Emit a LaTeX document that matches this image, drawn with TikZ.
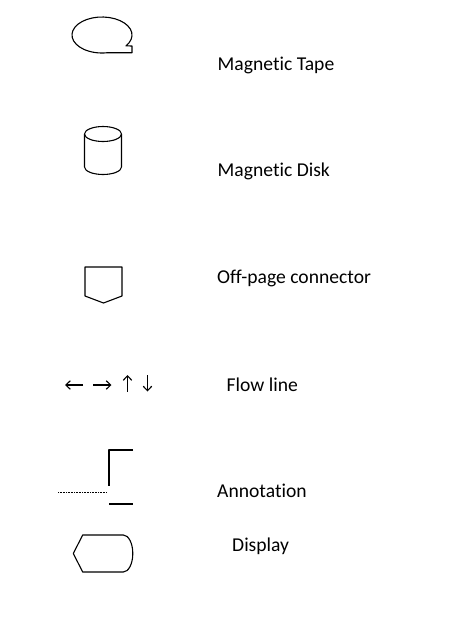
\documentclass[tikz,border=0pt]{standalone}
\usepackage{fontspec}
\setmainfont[RawFeature={-liga;-dlig;-clig}]{Carlito}
\usepackage{tikz}
\usetikzlibrary{arrows.meta,positioning}

\begin{document}
\begin{tikzpicture}[
    x=1pt, y=-1pt,
    shp/.style={draw, line width=1.1pt, line join=round},
    flow/.style={draw, line width=1.1pt, -{Straight Barb[length=4.5pt, width=8.5pt, line width=1.1pt]}},
    lbl/.style={anchor=base west, inner sep=0, font=\fontsize{19.6}{21}\selectfont}]
\useasboundingbox (0,0) rectangle (461,625);

% magnetic tape
\path[shp] (102,35) ++(37:30 and 18) arc[start angle=37, end angle=-280, x radius=30, y radius=18]
    -- (132,52.7) -- (132,46) -- cycle;
% magnetic disk
\path[shp] (103,134) ellipse [x radius=18.5, y radius=7.5];
\path[shp] (84.5,134) -- (84.5,167) arc[start angle=180, end angle=0, x radius=18.5, y radius=7.5] -- (121.5,134);
% off-page connector
\path[shp] (85,267) -- (122,267) -- (122,296) -- (103.5,303) -- (85,296) -- cycle;
% flow lines
\path[flow] (83,385) -- (65,385);
\path[flow] (93,385) -- (111.5,385);
\path[flow] (127.5,391.5) -- (127.5,375);
\path[flow] (147.5,375) -- (147.5,391.5);
% annotation
\path[shp] (133,450) -- (109,450) -- (109,486);
\path[draw, line width=0.7pt, dash pattern=on 0.7pt off 0.9pt] (58,492.3) -- (107,492.3);
\path[shp] (109,504) -- (133,504);
% display
\path[shp] (73.3,553.5) -- (82.7,535) -- (123.3,535) arc[start angle=-90, end angle=90, x radius=9.5, y radius=18.5]
    -- (82.7,572) -- cycle;

\node[lbl] (lbl-tape)    at (217.5,70)    {Magnetic Tape};
\node[lbl] (lbl-disk)    at (217.5,176.5) {Magnetic Disk};
\node[lbl] (lbl-offpage) at (217,283.3)   {Off-page connector};
\node[lbl] (lbl-flow)    at (226.5,391.5) {Flow line};
\node[lbl] (lbl-annot)   at (217,497.3)   {Annotation};
\node[lbl] (lbl-display) at (232,551.5)   {Display};

\end{tikzpicture}
\end{document}
